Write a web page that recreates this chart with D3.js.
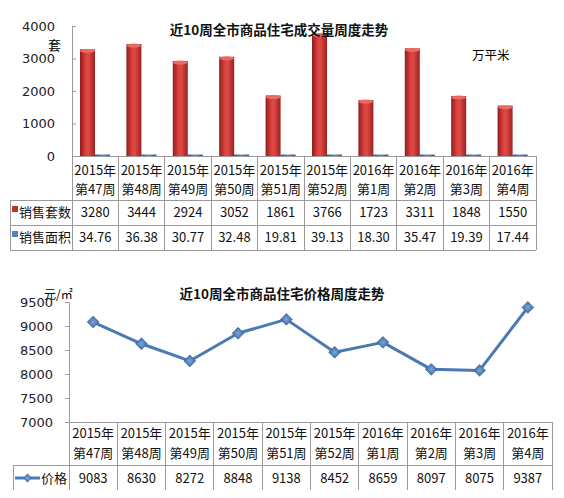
<!DOCTYPE html>
<html lang="zh">
<head>
    <meta charset="utf-8">
    <title>近10周全市商品住宅周度走势</title>
    <script src="https://d3js.org/d3.v7.min.js"></script>
    <style>
        body { margin: 0; background: #fff; }
        svg { display: block; font-family: "Noto Sans CJK SC", "DejaVu Sans", sans-serif; }
        .tbl { font-size: 13px; fill: #111; }
        .grid { stroke: #9a9a9a; stroke-width: 1; shape-rendering: crispEdges; }
        .title { font-size: 13.5px; font-weight: bold; fill: #111; }
        .tick text { font-size: 13px; fill: #222; font-family: "DejaVu Sans", sans-serif; }
    </style>
</head>
<body>
<svg id="chart" width="564" height="498"></svg>
<script>
    // Data
    const years = ["2015年", "2015年", "2015年", "2015年", "2015年", "2015年", "2016年", "2016年", "2016年", "2016年"];
    const weeks = ["第47周", "第48周", "第49周", "第50周", "第51周", "第52周", "第1周", "第2周", "第3周", "第4周"];
    const salesCount = [3280, 3444, 2924, 3052, 1861, 3766, 1723, 3311, 1848, 1550];
    const salesArea = ["34.76", "36.38", "30.77", "32.48", "19.81", "39.13", "18.30", "35.47", "19.39", "17.44"];
    const prices = [9083, 8630, 8272, 8848, 9138, 8452, 8659, 8097, 8075, 9387];
    const countTicks = [0, 1000, 2000, 3000, 4000];
    const priceTicks = [7000, 7500, 8000, 8500, 9000, 9500];

    const idx = d3.range(years.length);
    const svg = d3.select("#chart");
    const defs = svg.append("defs");

    // gradients for the cylinder-like bars
    function hGrad(id, stops) {
        const g = defs.append("linearGradient").attr("id", id)
            .attr("x1", "0%").attr("x2", "100%").attr("y1", "0%").attr("y2", "0%");
        stops.forEach(s => g.append("stop").attr("offset", s[0]).attr("stop-color", s[1]));
    }
    hGrad("redBar", [["0%", "#8e1b1a"], ["35%", "#d8403c"], ["55%", "#e04a45"], ["100%", "#9c2220"]]);
    hGrad("blueBar", [["0%", "#2f5c93"], ["50%", "#5d8fcf"], ["100%", "#2f5c93"]]);
    const rg = defs.append("radialGradient").attr("id", "diamond");
    rg.append("stop").attr("offset", "0%").attr("stop-color", "#7ea6da");
    rg.append("stop").attr("offset", "100%").attr("stop-color", "#3a679f");

    // ---------- top chart: 成交量 ----------
    const x = d3.scaleBand().domain(idx).range([72, 536]);
    const xin = d3.scaleBand().domain(["count", "area"]).range([8, 38]);
    const y = d3.scaleLinear().domain([0, 4000]).range([156, 26]);

    svg.append("g")
        .attr("transform", "translate(72,0)")
        .call(d3.axisLeft(y).tickValues(countTicks).tickFormat(d3.format("d")).tickSize(-4).tickPadding(17))
        .call(g => g.select(".domain").attr("stroke", "#9a9a9a"))
        .call(g => g.selectAll(".tick line").attr("stroke", "#9a9a9a"));

    const bars = svg.append("g");
    bars.selectAll("rect.cnt").data(idx).join("rect")
        .attr("class", "cnt")
        .attr("x", i => x(i) + xin("count"))
        .attr("width", xin.bandwidth())
        .attr("y", i => y(salesCount[i]))
        .attr("height", i => y(0) - y(salesCount[i]))
        .attr("fill", "url(#redBar)");
    bars.selectAll("ellipse.cap").data(idx).join("ellipse")
        .attr("class", "cap")
        .attr("cx", i => x(i) + xin("count") + xin.bandwidth() / 2)
        .attr("cy", i => y(salesCount[i]) + 1.5)
        .attr("rx", xin.bandwidth() / 2)
        .attr("ry", 2)
        .attr("fill", "#e86a64");
    bars.selectAll("rect.area").data(idx).join("rect")
        .attr("class", "area")
        .attr("x", i => x(i) + xin("area"))
        .attr("width", xin.bandwidth())
        .attr("y", i => Math.min(y(+salesArea[i]), y(0) - 1.5))
        .attr("height", i => Math.max(y(0) - y(+salesArea[i]), 1.5))
        .attr("fill", "url(#blueBar)");

    svg.append("text").attr("class", "title").attr("x", 279).attr("y", 35)
        .attr("text-anchor", "middle").text("近10周全市商品住宅成交量周度走势");
    svg.append("text").attr("x", 48).attr("y", 50).attr("font-size", 13).text("套");
    svg.append("text").attr("x", 472).attr("y", 60).attr("font-size", 12.5).text("万平米");

    // table under top chart
    const t1 = svg.append("g");
    const rowsTop = [156, 200, 225, 250];
    t1.selectAll("line.h").data(rowsTop).join("line").attr("class", "grid")
        .attr("x1", (d, i) => i === 0 ? 72 : 10).attr("x2", 536)
        .attr("y1", d => d).attr("y2", d => d);
    t1.selectAll("line.v").data(idx.concat([10])).join("line").attr("class", "grid")
        .attr("x1", i => i === 10 ? 536 : x(i)).attr("x2", i => i === 10 ? 536 : x(i))
        .attr("y1", 156).attr("y2", 250);
    t1.append("line").attr("class", "grid").attr("x1", 10).attr("x2", 10).attr("y1", 200).attr("y2", 250);
    const cx = i => x(i) + x.bandwidth() / 2;
    t1.selectAll("text.yr").data(idx).join("text").attr("class", "tbl")
        .attr("x", cx).attr("y", 175).attr("text-anchor", "middle").text(i => years[i]);
    t1.selectAll("text.wk").data(idx).join("text").attr("class", "tbl")
        .attr("x", cx).attr("y", 194).attr("text-anchor", "middle").text(i => weeks[i]);
    t1.selectAll("text.cn").data(idx).join("text").attr("class", "tbl")
        .attr("x", cx).attr("y", 217).attr("text-anchor", "middle").text(i => salesCount[i]);
    t1.selectAll("text.ar").data(idx).join("text").attr("class", "tbl")
        .attr("x", cx).attr("y", 242).attr("text-anchor", "middle").text(i => salesArea[i]);
    t1.append("rect").attr("x", 12).attr("y", 206).attr("width", 6).attr("height", 6).attr("fill", "#c0312d");
    t1.append("rect").attr("x", 12).attr("y", 231).attr("width", 6).attr("height", 6).attr("fill", "#4f81bd");
    t1.append("text").attr("class", "tbl").attr("x", 19).attr("y", 217).text("销售套数");
    t1.append("text").attr("class", "tbl").attr("x", 19).attr("y", 242).text("销售面积");

    // ---------- bottom chart: 价格 ----------
    const x2 = d3.scaleBand().domain(idx).range([69, 552]);
    const y2 = d3.scaleLinear().domain([7000, 9500]).range([422, 302]);

    svg.append("g")
        .attr("transform", "translate(69,0)")
        .call(d3.axisLeft(y2).tickValues(priceTicks).tickFormat(d3.format("d")).tickSize(4).tickPadding(12))
        .call(g => g.select(".domain").attr("stroke", "#9a9a9a"))
        .call(g => g.selectAll(".tick line").attr("stroke", "#9a9a9a"));

    svg.append("text").attr("class", "title").attr("x", 282).attr("y", 299)
        .attr("text-anchor", "middle").text("近10周全市商品住宅价格周度走势");
    svg.append("text").attr("x", 44).attr("y", 299).attr("font-size", 12).text("元/㎡");

    const cx2 = i => x2(i) + x2.bandwidth() / 2;
    const line = d3.line().x(i => cx2(i)).y(i => y2(prices[i]));
    svg.append("path").datum(idx).attr("d", line)
        .attr("fill", "none").attr("stroke", "#4a7ab5").attr("stroke-width", 3)
        .attr("stroke-linejoin", "round");
    svg.selectAll("path.dm").data(idx).join("path").attr("class", "dm")
        .attr("d", d3.symbol(d3.symbolDiamond2, 90))
        .attr("transform", i => `translate(${cx2(i)},${y2(prices[i])})`)
        .attr("fill", "url(#diamond)").attr("stroke", "#36639a").attr("stroke-width", 0.6);

    const t2 = svg.append("g");
    t2.append("line").attr("class", "grid").attr("x1", 69).attr("x2", 552).attr("y1", 422).attr("y2", 422);
    t2.append("line").attr("class", "grid").attr("x1", 13).attr("x2", 552).attr("y1", 465).attr("y2", 465);
    t2.selectAll("line.v").data(idx.concat([10])).join("line").attr("class", "grid")
        .attr("x1", i => i === 10 ? 552 : x2(i)).attr("x2", i => i === 10 ? 552 : x2(i))
        .attr("y1", 422).attr("y2", 490);
    t2.append("line").attr("class", "grid").attr("x1", 13).attr("x2", 13).attr("y1", 465).attr("y2", 490);
    t2.selectAll("text.yr").data(idx).join("text").attr("class", "tbl")
        .attr("x", cx2).attr("y", 438).attr("text-anchor", "middle").text(i => years[i]);
    t2.selectAll("text.wk").data(idx).join("text").attr("class", "tbl")
        .attr("x", cx2).attr("y", 458).attr("text-anchor", "middle").text(i => weeks[i]);
    t2.selectAll("text.pr").data(idx).join("text").attr("class", "tbl")
        .attr("x", cx2).attr("y", 483).attr("text-anchor", "middle").text(i => prices[i]);
    t2.append("line").attr("x1", 15).attr("x2", 40).attr("y1", 478).attr("y2", 478)
        .attr("stroke", "#4a7ab5").attr("stroke-width", 3);
    t2.append("path").attr("d", d3.symbol(d3.symbolDiamond2, 50))
        .attr("transform", "translate(27.5,478)").attr("fill", "url(#diamond)");
    t2.append("text").attr("class", "tbl").attr("x", 41).attr("y", 483).text("价格");
</script>
</body>
</html>
